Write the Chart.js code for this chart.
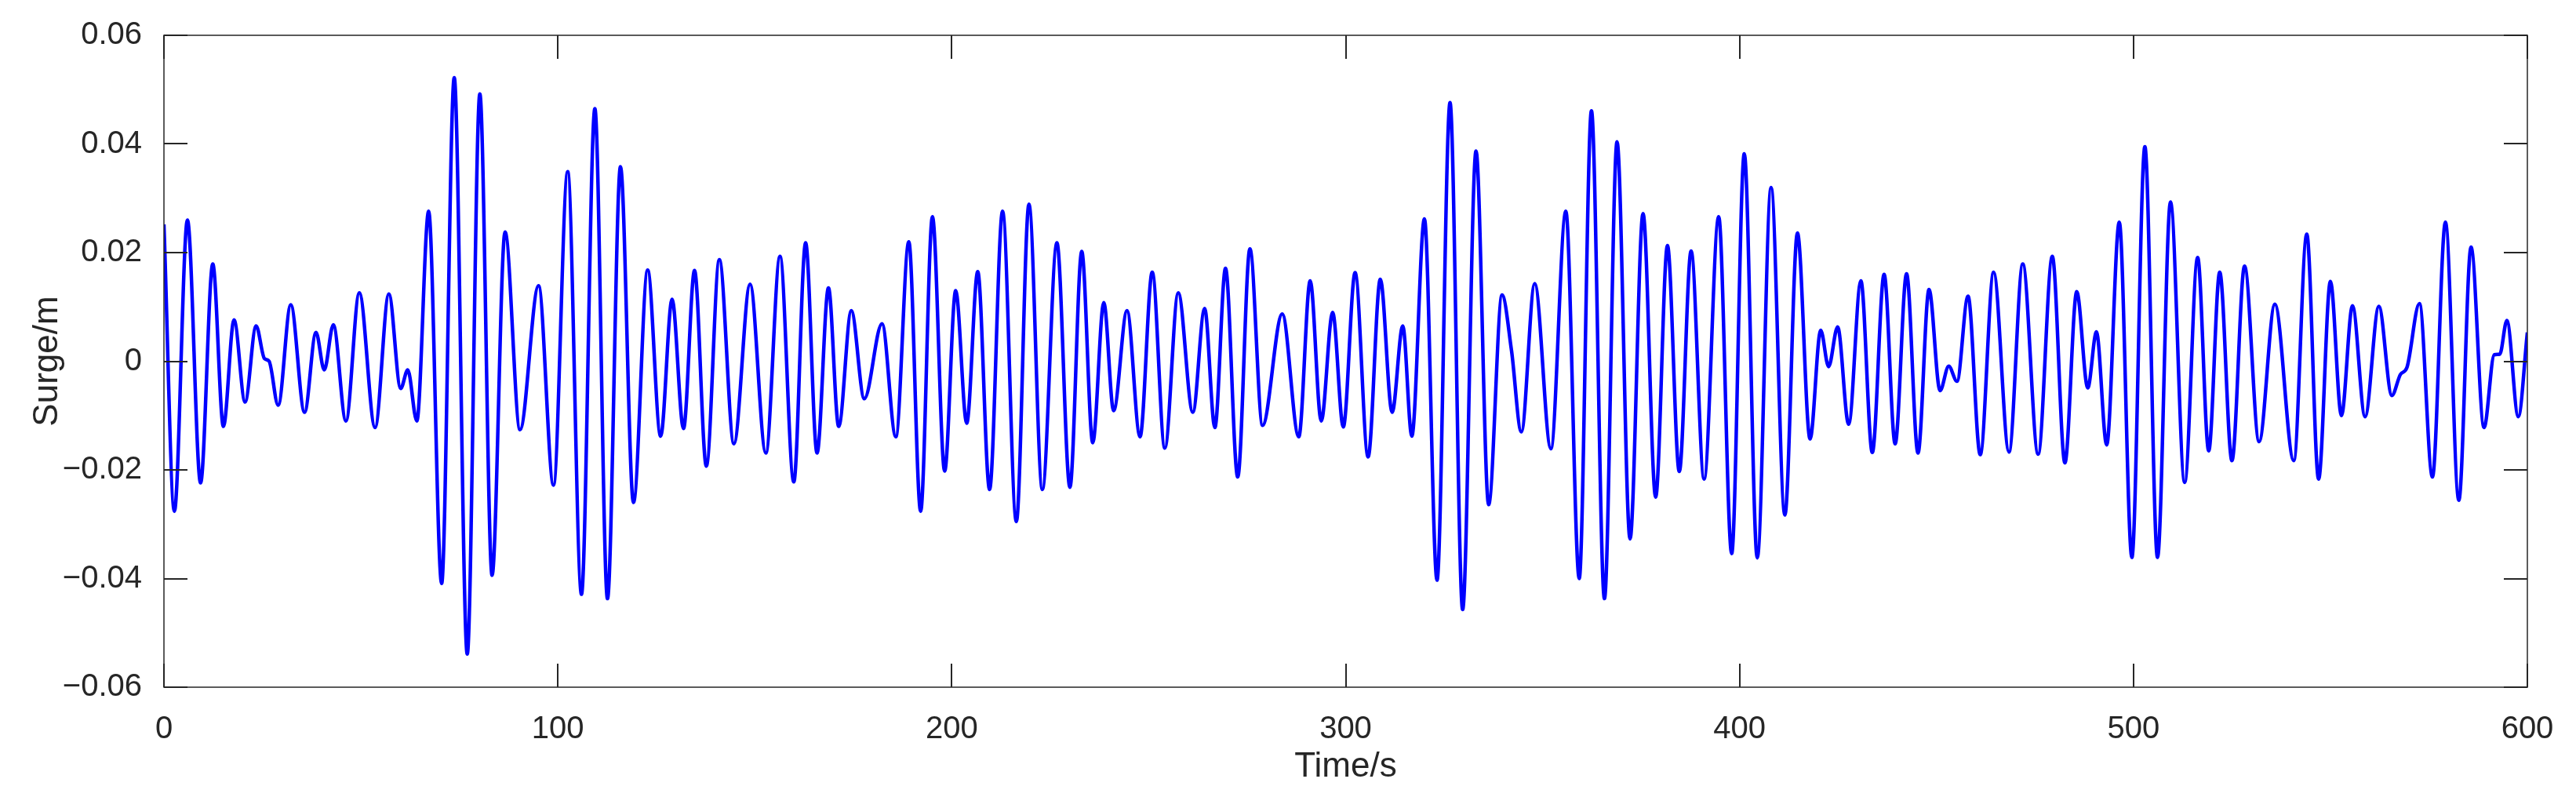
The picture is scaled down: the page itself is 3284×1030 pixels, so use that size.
<!DOCTYPE html>
<html>
<head>
<meta charset="utf-8">
<script src="https://cdn.jsdelivr.net/npm/chart.js@4.4.1/dist/chart.umd.min.js"></script>
<style>
  html, body { margin: 0; padding: 0; background: #fff; }
  #wrap { width: 3284px; height: 1030px; }
</style>
</head>
<body>
<div id="wrap"><canvas id="surgeChart" width="3284" height="1030"></canvas></div>
<script>
// time of each turning point (s)
const times = [
    0, 2.65, 5.97, 9.3, 12.4, 15.1, 17.8, 20.6, 23.4, 25.5, 26.7, 29.0, 32.2, 35.7, 38.6, 40.7, 43.0,
    46.2, 49.6, 53.6, 57.1, 60.1, 61.9, 64.2, 67.2, 70.5, 73.7, 77.0, 80.2, 83.3, 86.6, 90.4, 95.1, 98.9,
    102.5, 106.0, 109.4, 112.6, 115.9, 119.2, 122.8, 126.1, 129.0, 131.9, 134.7, 137.7, 141.0, 144.7, 148.8,
    152.8, 156.4, 159.9, 162.9, 165.8, 168.7, 171.3, 174.5, 177.8, 182.3, 185.8, 189.1, 192.1, 195.1, 198.2,
    201.0, 203.8, 206.6, 209.6, 212.9, 216.4, 219.6, 223.0, 226.7, 230.0, 233.0, 235.8, 238.6, 241.1, 244.5, 247.8,
    250.9, 254.1, 257.5, 261.2, 264.2, 266.8, 269.5, 272.6, 275.7, 278.9, 283.9, 288.1, 291.0, 293.8, 296.7, 299.4,
    302.4, 305.7, 308.8, 311.8, 314.5, 316.8, 320.0, 323.2, 326.5, 329.7, 333.1, 336.3, 339.7, 342.1, 344.6, 348.0,
    352.1, 355.9, 359.3, 362.4, 365.7, 368.9, 372.2, 375.5, 378.7, 381.7, 384.7, 387.7, 391.0, 394.7, 398.0,
    401.2, 404.5, 408.0, 411.5, 414.7, 417.9, 420.6, 422.6, 424.9, 427.7, 430.8, 433.7, 436.7, 439.5, 442.4, 445.3, 448.1,
    450.9, 453.1, 455.2, 458.0, 461.1, 464.5, 468.4, 471.9, 475.8, 479.4, 482.6, 485.6, 488.4, 490.6, 493.2, 496.4, 499.6,
    502.9, 506.1, 509.4, 513.0, 516.3, 519.1, 521.9, 525.0, 528.2, 531.9, 535.9, 540.7, 544.0, 547.0, 550.0, 552.8,
    555.6, 558.8, 562.3, 565.6, 567.8, 569.4, 572.6, 575.9, 579.2, 582.6, 585.7, 589.0, 591.6, 593.0, 594.8, 597.7, 600
];

// surge at those points (m)
const surge = [
    0.0252, -0.0276, 0.026, -0.0224, 0.0179, -0.012, 0.0076, -0.0075, 0.0065, 0.0005, 0.0, -0.0081, 0.0104, -0.0094, 0.0053, -0.0016, 0.0067,
    -0.011, 0.0126, -0.0122, 0.0124, -0.005, -0.0016, -0.011, 0.0276, -0.0409, 0.0522, -0.0539, 0.0492, -0.0394, 0.0238, -0.0126, 0.0139, -0.0228,
    0.0349, -0.0429, 0.0465, -0.0437, 0.0358, -0.026, 0.0168, -0.0138, 0.0114, -0.0124, 0.0167, -0.0193, 0.0187, -0.0152, 0.0142,
    -0.0169, 0.0193, -0.0222, 0.0218, -0.0169, 0.0135, -0.012, 0.0093, -0.0069, 0.0069, -0.0139, 0.022, -0.0276, 0.0266, -0.0202,
    0.013, -0.0114, 0.0165, -0.0236, 0.0276, -0.0295, 0.0289, -0.0236, 0.0218, -0.0232, 0.0202, -0.015, 0.0108, -0.0091, 0.0093, -0.0139,
    0.0164, -0.016, 0.0126, -0.0094, 0.0097, -0.0122, 0.0171, -0.0213, 0.0207, -0.0118, 0.0087, -0.0139, 0.0148, -0.011, 0.009, -0.0121,
    0.0163, -0.0176, 0.0151, -0.0094, 0.0065, -0.0138, 0.0262, -0.0403, 0.0476, -0.0457, 0.0387, -0.0264, 0.0122, 0.002, -0.013, 0.0143,
    -0.0161, 0.0276, -0.04, 0.0461, -0.0437, 0.0404, -0.0327, 0.0272, -0.025, 0.0213, -0.0203, 0.0203, -0.0217, 0.0266, -0.0354,
    0.0382, -0.0362, 0.032, -0.0283, 0.0236, -0.0143, 0.0057, -0.001, 0.0063, -0.0116, 0.0148, -0.0168, 0.016, -0.0152, 0.0161, -0.0169, 0.0132,
    -0.0054, -0.0009, -0.0037, 0.012, -0.0172, 0.0164, -0.0167, 0.0179, -0.0171, 0.0193, -0.0187, 0.0128, -0.0049, 0.0054, -0.0154, 0.0256, -0.0361,
    0.0395, -0.0361, 0.0293, -0.0223, 0.0191, -0.0165, 0.0164, -0.0183, 0.0175, -0.0148, 0.0105, -0.0183, 0.0234, -0.0217, 0.0147, -0.01,
    0.0102, -0.0102, 0.0101, -0.0063, -0.0024, -0.0012, 0.0106, -0.0213, 0.0256, -0.0256, 0.021, -0.0122, 0.0012, 0.0013, 0.0075, -0.0102, 0.0053
];

const xTicks = [0, 100, 200, 300, 400, 500, 600];
const xTickLabels = ['0', '100', '200', '300', '400', '500', '600'];
const yTicks = [-0.06, -0.04, -0.02, 0, 0.02, 0.04, 0.06];
const yTickLabels = ['\u22120.06', '\u22120.04', '\u22120.02', '0', '0.02', '0.04', '0.06'];

const axisColor = '#262626';
const fontFamily = '"Liberation Sans", Arial, Helvetica, sans-serif';

// box round the plot and inward ticks on all four sides (MATLAB style)
const boxTicks = {
    id: 'boxTicks',
    afterDatasetsDraw(chart) {
        const {ctx, chartArea: a, scales: {x, y}} = chart;
        const len = 30;
        ctx.save();
        ctx.strokeStyle = axisColor;
        ctx.lineWidth = 2;
        ctx.beginPath();
        x.ticks.forEach(t => {
            const px = Math.round(x.getPixelForValue(t.value));
            ctx.moveTo(px, a.bottom); ctx.lineTo(px, a.bottom - len);
            ctx.moveTo(px, a.top); ctx.lineTo(px, a.top + len);
        });
        y.ticks.forEach(t => {
            const py = Math.round(y.getPixelForValue(t.value));
            ctx.moveTo(a.left, py); ctx.lineTo(a.left + len, py);
            ctx.moveTo(a.right, py); ctx.lineTo(a.right - len, py);
        });
        ctx.stroke();
        ctx.lineWidth = 1.5;
        ctx.strokeRect(a.left, a.top, a.right - a.left, a.bottom - a.top);
        ctx.restore();
    }
};

const ctx = document.getElementById('surgeChart').getContext('2d');
new Chart(ctx, {
    type: 'line',
    data: {
        datasets: [{
            label: 'Surge',
            data: times.map((t, i) => ({x: t, y: surge[i]})),
            borderColor: '#0000ff',
            borderWidth: 4.5,
            pointRadius: 0,
            fill: false,
            cubicInterpolationMode: 'monotone'
        }]
    },
    options: {
        responsive: false,
        devicePixelRatio: 1,
        animation: false,
        layout: {
            padding: {left: 0, right: 62, top: 45, bottom: 0}
        },
        plugins: {
            legend: {display: false},
            tooltip: {enabled: false}
        },
        scales: {
            x: {
                type: 'linear',
                min: 0,
                max: 600,
                afterBuildTicks: s => { s.ticks = xTicks.map(v => ({value: v})); },
                afterFit: s => { s.height = 154; },
                grid: {display: false},
                border: {display: false},
                ticks: {
                    padding: 22,
                    color: axisColor,
                    font: {family: fontFamily, size: 40},
                    maxRotation: 0,
                    callback: (v, i) => xTickLabels[i]
                },
                title: {
                    display: true,
                    text: 'Time/s',
                    color: axisColor,
                    font: {family: fontFamily, size: 44},
                    padding: {top: 0, bottom: 26}
                }
            },
            y: {
                type: 'linear',
                min: -0.06,
                max: 0.06,
                afterBuildTicks: s => { s.ticks = yTicks.map(v => ({value: v})); },
                afterFit: s => { s.width = 209; },
                grid: {display: false},
                border: {display: false},
                ticks: {
                    padding: 20,
                    color: axisColor,
                    font: {family: fontFamily, size: 40},
                    callback: (v, i) => yTickLabels[i]
                },
                title: {
                    display: true,
                    text: 'Surge/m',
                    color: axisColor,
                    font: {family: fontFamily, size: 44},
                    padding: {top: 34, bottom: 0}
                }
            }
        }
    },
    plugins: [boxTicks]
});
</script>
</body>
</html>
